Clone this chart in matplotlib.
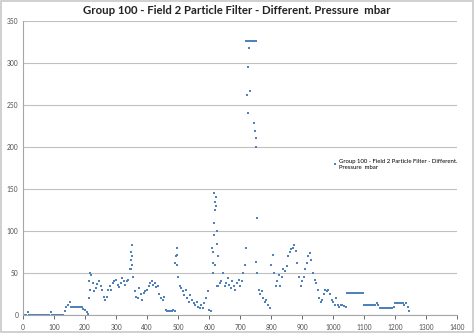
import numpy as np
import matplotlib.pyplot as plt

plt.rcParams['font.family'] = ['Lato', 'DejaVu Sans']

# readings every 5 units of x (0 .. 1245)
x_step = 5
pressure = [
    0, 0, 0, 3, 0, 0, 0, 0, 0, 0,
    0, 0, 0, 0, 0, 0, 0, 0, 3, 0,
    0, 0, 0, 0, 0, 0, 0, 5, 9, 12,
    16, 9, 9, 9, 9, 9, 9, 9, 9, 7,
    6, 4, 1, 30, 48, 38, 28, 32, 37, 40,
    34, 30, 22, 18, 22, 30, 34, 30, 38, 40,
    42, 36, 33, 38, 44, 40, 36, 40, 42, 55,
    83, 45, 28, 22, 20, 32, 25, 18, 26, 28,
    30, 34, 38, 40, 36, 38, 33, 35, 25, 20,
    18, 22, 6, 5, 5, 5, 5, 6, 5, 80,
    45, 35, 32, 28, 24, 30, 20, 16, 24, 18,
    14, 12, 16, 10, 8, 12, 8, 14, 20, 28,
    6, 5, 80, 145, 60, 34, 35, 38, 40, 50,
    34, 38, 44, 36, 32, 40, 34, 30, 38, 42,
    35, 40, 50, 60, 326, 326, 326, 326, 326, 326,
    326, 115, 30, 25, 28, 20, 15, 18, 12, 8,
    60, 72, 50, 35, 40, 48, 35, 45, 55, 52,
    58, 70, 75, 78, 80, 83, 76, 62, 45, 35,
    40, 45, 55, 62, 70, 74, 65, 50, 42, 38,
    30, 20, 15, 18, 25, 30, 28, 30, 25, 18,
    15, 12, 20, 12, 10, 12, 12, 11, 10, 26,
    26, 26, 26, 26, 26, 26, 26, 26, 26, 26,
    12, 12, 12, 12, 12, 12, 12, 12, 14, 12,
    8, 8, 8, 8, 8, 8, 8, 8, 8, 10,
    14, 14, 14, 14, 14, 14, 12, 14, 10, 5,
]

# scattered readings on the steep jumps
extra_x = [212, 214, 216, 347, 348, 349, 352, 353, 491, 493, 497, 498,
           612, 613, 614, 616, 617, 618, 619, 621, 622, 624, 626, 628,
           719, 722, 724, 726, 728, 732, 745, 748, 750, 752, 752, 755]
extra_y = [20, 40, 50, 55, 65, 75, 70, 60, 62, 70, 72, 60,
           50, 62, 75, 95, 110, 125, 135, 140, 130, 100, 85, 70,
           80, 262, 241, 295, 318, 267, 228, 219, 211, 200, 63, 50]

x = np.arange(len(pressure)) * x_step
xs = np.concatenate([x, extra_x])
ys = np.concatenate([pressure, extra_y])

fig = plt.figure(figsize=(4.74, 3.33), dpi=100)
ax = fig.add_axes([0.0485, 0.054, 0.916, 0.883])

ax.plot(xs, ys, ls='none', marker='s', ms=2.1, mew=0, color='#4F81BD',
        label='Group 100 - Field 2 Particle Filter - Different.\nPressure  mbar')

ax.set_xlim(0, 1400)
ax.set_ylim(0, 350)
ax.set_xticks(range(0, 1401, 100))
ax.set_yticks(range(0, 351, 50))
ax.tick_params(labelsize=4.8, colors='#505050', length=3, width=0.6)
ax.tick_params(axis='y', length=0)
ax.yaxis.grid(True, color='#c0c0c0', lw=0.8)
ax.set_axisbelow(True)
for s in ['top', 'right']:
    ax.spines[s].set_visible(False)
for s in ['left', 'bottom']:
    ax.spines[s].set_color('#a6a6a6')
    ax.spines[s].set_linewidth(0.8)

ax.legend(loc='upper left', bbox_to_anchor=(334 / 474, 1 - 159 / 333),
          bbox_transform=fig.transFigure, frameon=False, fontsize=4.3,
          handlelength=0.4, handletextpad=0.4, markerscale=0.7,
          borderpad=0, borderaxespad=0)

fig.text(0.5, 0.985, 'Group 100 - Field 2 Particle Filter - Different. Pressure  mbar',
         ha='center', va='top', fontsize=8.2, fontweight='bold', color='#222222')

# chart frame
fig.patches.append(plt.Rectangle((0.003, 0.004), 0.994, 0.992, transform=fig.transFigure,
                                 fill=False, edgecolor='#c8c8c8', lw=1.2))

fig.savefig('out.png', dpi=100)
